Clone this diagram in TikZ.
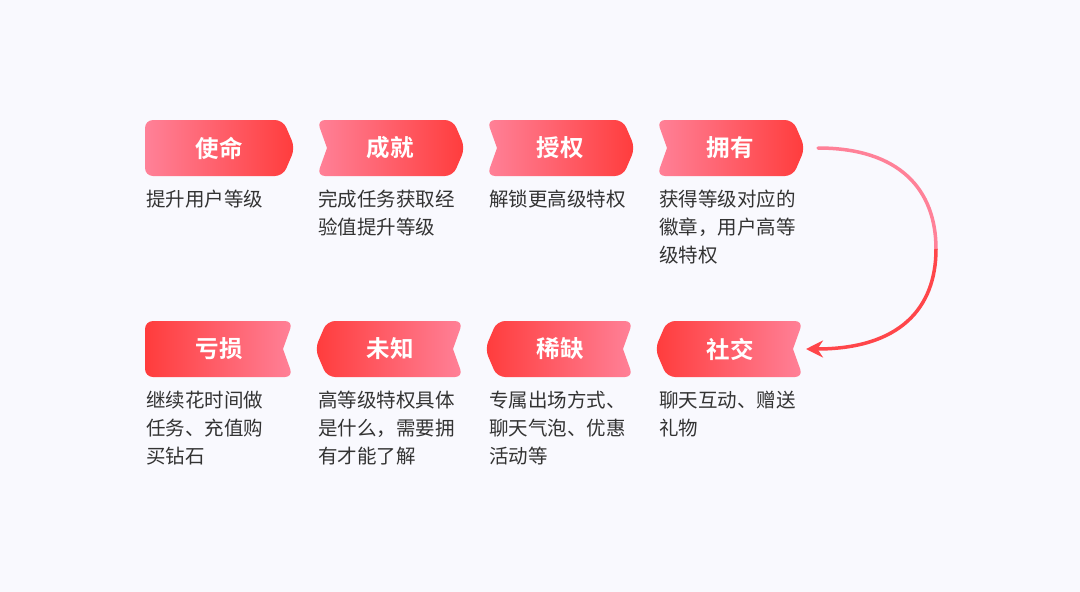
\documentclass[tikz,border=0pt]{standalone}
\usepackage{fontspec}
\newfontfamily\cjk{Noto Sans CJK SC}[BoldFont={Noto Sans CJK SC Bold}]
\usetikzlibrary{arrows.meta}
\definecolor{pinkc}{HTML}{FF8198}
\definecolor{redc}{HTML}{FF3C3C}
\definecolor{txtc}{HTML}{333333}
\definecolor{bgc}{HTML}{F9F9FE}
\tikzset{
  title/.style={text=white, font=\cjk\bfseries\fontsize{23.5}{26}\selectfont},
  desc/.style={text=txtc, anchor=north west, align=left, inner sep=0pt,
    font=\cjk\fontsize{19.5}{28}\selectfont},
  topfill/.style={left color=pinkc, right color=redc, rounded corners=8pt},
  botfill/.style={left color=redc, right color=pinkc, rounded corners=8pt},
}
\begin{document}
\begin{tikzpicture}[x=1pt,y=-1pt]
    \fill[bgc] (0,0) rectangle (1080,592);
    \useasboundingbox (0,0) rectangle (1080,592);

    % top row
    \shade[topfill] (145,120) -- (283,120) -- (295,148) -- (283,176) -- (145,176) -- cycle;
    \foreach \x in {317,487,657} {
      \shade[topfill] (\x,120) -- (\x+136,120) -- (\x+148,148) -- (\x+136,176) -- (\x,176) [sharp corners] -- (\x+10,148) [rounded corners=8pt] -- cycle;
    }
    \node[title] (t1) at (219,148) {使命};
    \node[title] (t2) at (390,148) {成就};
    \node[title] (t3) at (560,148) {授权};
    \node[title] (t4) at (730,148) {拥有};
    \coordinate (t4e) at (818,148);

    % bottom row
    \shade[botfill] (145,321) -- (293,321) [sharp corners] -- (283,349) [rounded corners=8pt] -- (293,377) -- (145,377) -- cycle;
    \foreach \x in {315,485,655} {
      \shade[botfill] (\x+12,321) -- (\x+148,321) [sharp corners] -- (\x+138,349) [rounded corners=8pt] -- (\x+148,377) -- (\x+12,377) -- (\x,349) -- cycle;
    }
    \node[title] (b1) at (219,349) {亏损};
    \node[title] (b2) at (390,349) {未知};
    \node[title] (b3) at (560,349) {稀缺};
    \node[title] (b4) at (730,349) {社交};
    \coordinate (b4e) at (806,349);

    % descriptions
    \node[desc] (d1) at (146,190) {提升用户等级};
    \node[desc] (d2) at (318,190) {完成任务获取经\\验值提升等级};
    \node[desc] (d3) at (489,190) {解锁更高级特权};
    \node[desc] (d4) at (659,190) {获得等级对应的\\徽章，用户高等\\级特权};
    \node[desc] (d5) at (146,391) {继续花时间做\\任务、充值购\\买钻石};
    \node[desc] (d6) at (318,391) {高等级特权具体\\是什么，需要拥\\有才能了解};
    \node[desc] (d7) at (489,391) {专属出场方式、\\聊天气泡、优惠\\活动等};
    \node[desc] (d8) at (659,391) {聊天互动、赠送\\礼物};

    % curved arrow
    \draw[pinkc, line width=3.5pt, line cap=round] (t4e) .. controls (900,148) and (936,190) .. (936,249);
    \draw[redc!85!pinkc, line width=3.5pt, -{Stealth[length=17pt,width=17pt]}] (936,249) .. controls (936,308) and (900,349) .. (b4e);
\end{tikzpicture}
\end{document}
